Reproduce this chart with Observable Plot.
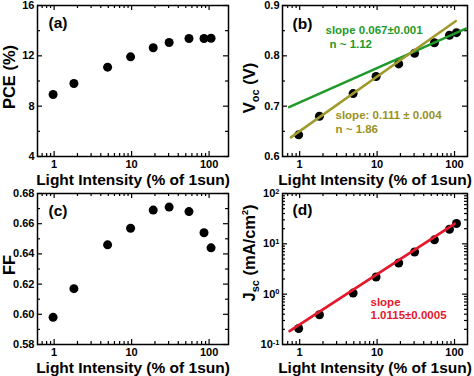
<!DOCTYPE html>
<html><head><meta charset="utf-8">
<script src="https://cdn.jsdelivr.net/npm/d3@7"></script>
<script src="https://cdn.jsdelivr.net/npm/@observablehq/plot@0.6"></script>
<style>
body{margin:0;background:#fff;}
#grid{display:grid;grid-template-columns:237px 237px;grid-template-rows:188px 188px;width:474px;height:376px;}
#grid svg{display:block;}
</style></head><body><div id="grid"></div>
<script>
// ---- data ----
const intensity = [0.97, 1.8, 4.9, 9.7, 19, 30.5, 55, 86, 106];
const pce = [8.93, 9.8, 11.1, 11.92, 12.64, 13.06, 13.38, 13.38, 13.4];
const voc = [0.643, 0.680, 0.725, 0.759, 0.784, 0.805, 0.826, 0.841, 0.846];
const ff  = [0.598, 0.617, 0.646, 0.657, 0.669, 0.671, 0.668, 0.654, 0.644];
const jsc = [0.208, 0.39, 1.05, 2.19, 4.17, 6.9, 12.0, 19.5, 25.3];
const fitGreenX = [0.73, 140], fitGreenY = [0.698, 0.854];
const fitOliveX = [0.77, 104], fitOliveY = [0.638, 0.869];
const fitRedX = [0.74, 100], fitRedY = [0.185, 25];
// ---- ticks ----
const xTicks = [1, 10, 100];
const xMinor = [0.7, 0.8, 0.9, 2, 3, 4, 5, 6, 7, 8, 9, 20, 30, 40, 50, 60, 70, 80, 90];
const pceTicks = [4, 8, 12, 16], pceMinor = [6, 10, 14];
const vocTicks = [0.6, 0.7, 0.8, 0.9], vocMinor = [0.65, 0.75, 0.85];
const ffTicks = [0.58, 0.60, 0.62, 0.64, 0.66, 0.68], ffMinor = [0.59, 0.61, 0.63, 0.65, 0.67];
const jscTicks = [0.1, 1, 10, 100];
const jscMinor = [0.2,0.3,0.4,0.5,0.6,0.7,0.8,0.9,2,3,4,5,6,7,8,9,20,30,40,50,60,70,80,90];
const jscTickLabels = ["10^-1", "10^0", "10^1", "10^2"];
const xLabel = "Light Intensity (% of 1sun)";

const GREEN = "#1f9a2a", OLIVE = "#a09a2c", OLIVE_T = "#9a9224", RED = "#e5192b";
const W = 237, H = 188, MT = 5, MB = 32;

function pts(ys){ return intensity.map((x, i) => ({x, y: ys[i]})); }
function line(xs, ys){ return xs.map((x, i) => ({x, y: ys[i]})); }

function panel(o){
  const fw = W - o.ml - o.mr, fh = H - MT - MB;
  const tickStyle = {stroke: "black", strokeWidth: 1.2};
  const marks = [
    Plot.frame({stroke: "black", strokeWidth: 1.5}),
    Plot.tickX(xTicks, {x: d => d, insetTop: fh - 5, ...tickStyle}),
    Plot.tickX(xTicks, {x: d => d, insetBottom: fh - 5, ...tickStyle}),
    Plot.tickX(xMinor, {x: d => d, insetTop: fh - 3, ...tickStyle}),
    Plot.tickX(xMinor, {x: d => d, insetBottom: fh - 3, ...tickStyle}),
    Plot.tickY(o.yTicks, {y: d => d, insetRight: fw - 5, ...tickStyle}),
    Plot.tickY(o.yTicks, {y: d => d, insetLeft: fw - 5, ...tickStyle}),
    Plot.tickY(o.yMinor, {y: d => d, insetRight: fw - 3, ...tickStyle}),
    Plot.tickY(o.yMinor, {y: d => d, insetLeft: fw - 3, ...tickStyle}),
    Plot.axisX({ticks: xTicks, tickSize: 0, tickPadding: 4, tickFormat: d => String(d), label: null, fontSize: 11}),
    Plot.axisY({ticks: o.yTicks, tickSize: 0, tickPadding: 3, tickFormat: o.yFormat, label: null, fontSize: 11}),
    Plot.dot(pts(o.ys), {x: "x", y: "y", r: 4.5, fill: "black"}),
    ...(o.extra || []),
    Plot.text([xLabel], {frameAnchor: "bottom", dy: 28, lineAnchor: "bottom", fontSize: 15.5}),
    Plot.text([o.letter], {frameAnchor: "top-left", textAnchor: "start", lineAnchor: "bottom", dx: o.ldx, dy: o.ldy, fontSize: 15.5})
  ];
  const svg = Plot.plot({
    width: W, height: H,
    marginLeft: o.ml, marginRight: o.mr, marginTop: MT, marginBottom: MB,
    style: {fontFamily: "'Liberation Sans', Arial, sans-serif", fontWeight: "bold", fontSize: "11px", background: "white", overflow: "visible"},
    x: {type: "log", domain: o.xDomain},
    y: {type: o.yType || "linear", domain: o.yDomain},
    marks
  });
  const s = d3.select(svg);
  const t = s.append("text")
    .attr("transform", `translate(${o.lx},${o.ly}) rotate(-90)`)
    .attr("text-anchor", "middle")
    .attr("fill", "black")
    .style("font-size", "16.5px").style("font-weight", "bold");
  o.ylab.forEach(p => {
    const ts = t.append("tspan").text(p.t);
    if (p.sub) ts.attr("dy", 4).style("font-size", "11px");
    if (p.sup) ts.attr("dy", -7).style("font-size", "9px");
    if (p.reset) ts.attr("dy", p.reset);
  });
  document.getElementById("grid").appendChild(svg);
  return svg;
}

// (a)
panel({ml: 37, mr: 9, xDomain: [0.61, 178], yDomain: [4, 16], yTicks: pceTicks, yMinor: pceMinor,
  yFormat: d => String(d), ys: pce, letter: "(a)", ldx: 11, ldy: 22,
  lx: 15, ly: 77, ylab: [{t: "PCE (%)"}]});

// (b)
panel({ml: 45, mr: 7, xDomain: [0.6, 147], yDomain: [0.6, 0.9], yTicks: vocTicks, yMinor: vocMinor,
  yFormat: d3.format(".1f"), ys: voc, letter: "(b)", ldx: 10, ldy: 23,
  lx: 18, ly: 88, ylab: [{t: "V"}, {t: "oc", sub: true}, {t: " (V)", reset: -4}],
  extra: [
    Plot.line(line(fitGreenX, fitGreenY), {x: "x", y: "y", stroke: GREEN, strokeWidth: 2.5}),
    Plot.line(line(fitOliveX, fitOliveY), {x: "x", y: "y", stroke: OLIVE, strokeWidth: 2.5}),
    Plot.text(["slope 0.067\u00b10.001"], {frameAnchor: "top-left", textAnchor: "start", lineAnchor: "bottom", dx: 43, dy: 28, fill: GREEN, fontSize: 11.5}),
    Plot.text(["n ~ 1.12"], {frameAnchor: "top-left", textAnchor: "start", lineAnchor: "bottom", dx: 47, dy: 42, fill: GREEN, fontSize: 11.5}),
    Plot.text(["slope: 0.111 \u00b1 0.004"], {frameAnchor: "top-left", textAnchor: "start", lineAnchor: "bottom", dx: 53, dy: 113, fill: OLIVE_T, fontSize: 11.5}),
    Plot.text(["n ~ 1.86"], {frameAnchor: "top-left", textAnchor: "start", lineAnchor: "bottom", dx: 53, dy: 127, fill: OLIVE_T, fontSize: 11.5})
  ]});

// (c)
panel({ml: 37, mr: 9, xDomain: [0.61, 178], yDomain: [0.58, 0.68], yTicks: ffTicks, yMinor: ffMinor,
  yFormat: d3.format(".2f"), ys: ff, letter: "(c)", ldx: 11, ldy: 22,
  lx: 15, ly: 77, ylab: [{t: "FF"}]});

// (d)
const svgD = panel({ml: 45, mr: 7, xDomain: [0.6, 147], yType: "log", yDomain: [0.1, 100], yTicks: jscTicks, yMinor: jscMinor,
  yFormat: d => jscTickLabels[jscTicks.indexOf(d)], ys: jsc, letter: "(d)", ldx: 10, ldy: 21,
  lx: 18, ly: 65, ylab: [{t: "J"}, {t: "sc", sub: true}, {t: " (mA/cm", reset: -4}, {t: "2", sup: true}, {t: ")", reset: 7}],
  extra: [
    Plot.line(line(fitRedX, fitRedY), {x: "x", y: "y", stroke: RED, strokeWidth: 2.8}),
    Plot.text(["slope"], {frameAnchor: "top-left", textAnchor: "start", lineAnchor: "bottom", dx: 88, dy: 112, fill: RED, fontSize: 11.5}),
    Plot.text(["1.0115\u00b10.0005"], {frameAnchor: "top-left", textAnchor: "start", lineAnchor: "bottom", dx: 88, dy: 125, fill: RED, fontSize: 11.5})
  ]});
d3.select(svgD).selectAll("g[aria-label='y-axis tick label'] text").each(function(){
  const el = d3.select(this);
  const parts = el.text().split("^");
  if (parts.length === 2) {
    el.text(parts[0]);
    el.append("tspan").attr("dy", "-0.45em").style("font-size", "7.5px").text(parts[1]);
  }
});
</script></body></html>
